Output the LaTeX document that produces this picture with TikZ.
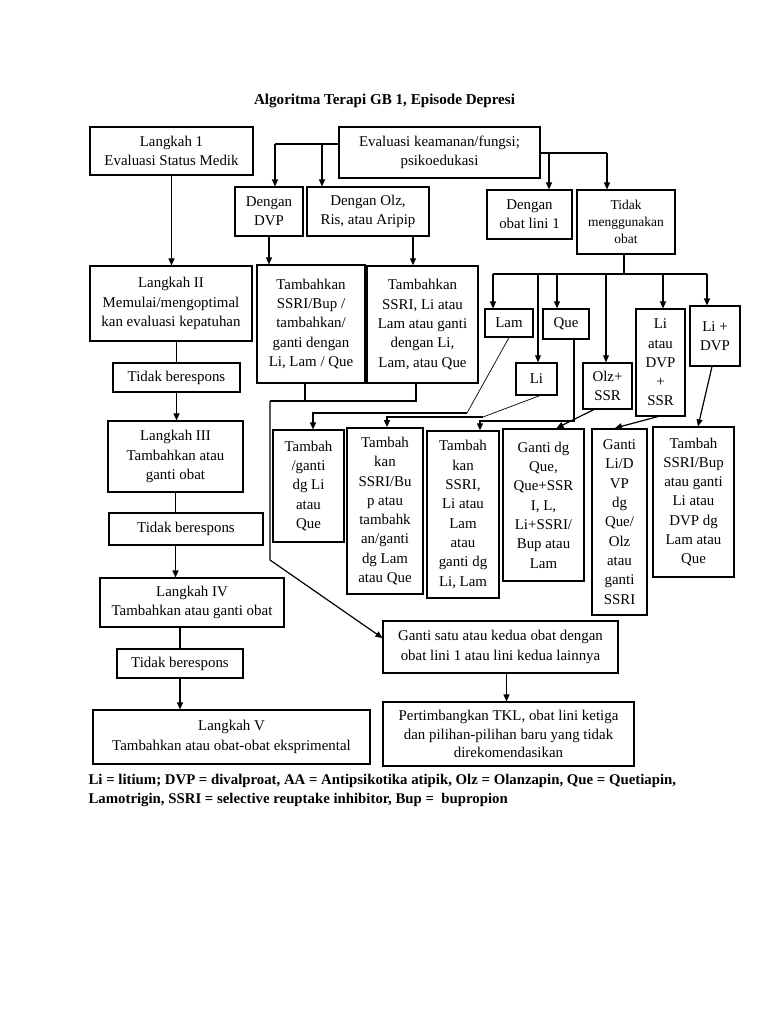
\documentclass[tikz,border=0pt]{standalone}
\usepackage{fontspec}
\setmainfont{Liberation Serif}
\usetikzlibrary{arrows.meta}

\begin{document}
\begin{tikzpicture}[x = 1pt, y = -1pt,
                > = {Triangle[length=7pt, width=6pt]}, % arrow head style
                line width = 1.2pt, % line style
                dims/.style 2 args = {minimum width=#1pt, minimum height=#2pt}
            ]

            \tikzstyle{box}=[draw = black, rectangle, align = center,
            inner sep = 0pt, line width = 1.1pt,
            font = \fontsize{14.9}{19.3}\selectfont]
            \tikzstyle{boxb}=[box, line width = 1.9pt]
            \tikzstyle{boxm}=[box, line width = 1.5pt]
            \tikzstyle{thinline}=[line width = 0.7pt]

            \path[use as bounding box, fill = white] (0,0) rectangle (768,1024);

            \node[font = \bfseries\fontsize{15.1}{18}\selectfont] (title) at (384.5,101)
            {Algoritma Terapi GB 1, Episode Depresi};

            % kolom langkah
            \node[boxb, dims={163}{48}] (lk1) at (171.5,151) {Langkah 1\\Evaluasi Status Medik};
            \node[box, dims={162}{75}] (lk2) at (171,303.5) {Langkah II\\Memulai/mengoptimal\\kan evaluasi kepatuhan};
            \node[box, dims={127}{29}] (tdk1) at (176.5,377.5) {Tidak berespons};
            \node[box, dims={135}{71}] (lk3) at (175.5,456.5) {Langkah III\\Tambahkan atau\\ganti obat};
            \node[box, dims={154}{32}] (tdk2) at (186,529) {Tidak berespons};
            \node[box, dims={184}{49}] (lk4) at (192,602.5) {Langkah IV\\Tambahkan atau ganti obat};
            \node[box, dims={126}{29}] (tdk3) at (180,663.5) {Tidak berespons};
            \node[box, dims={277}{54}] (lk5) at (231.5,737) {Langkah V\\Tambahkan atau obat-obat eksprimental};

            % evaluasi dan cabangnya
            \node[boxb, dims={201}{51}] (eval) at (439.5,152.5) {Evaluasi keamanan/fungsi;\\psikoedukasi};
            \node[box, dims={68}{49}] (dvp) at (269,211.5) {Dengan\\DVP};
            \node[box, dims={122}{49}] (olz) at (368,211.5) {Dengan Olz,\\Ris, atau Aripip};
            \node[box, dims={85}{49}] (lini) at (529.5,214.5) {Dengan\\obat lini 1};
            \node[box, dims={98}{64}, font = \fontsize{13.5}{17.3}\selectfont] (tidak) at (626,222)
            {Tidak\\menggunakan\\obat};
            \node[box, dims={108}{118}] (tb1) at (311,324) {Tambahkan\\SSRI/Bup /\\tambahkan/\\ganti dengan\\Li, Lam / Que};
            \node[boxm, dims={111}{117}] (tb2) at (422.5,324.5) {Tambahkan\\SSRI, Li atau\\Lam atau ganti\\dengan Li,\\Lam, atau Que};

            % obat
            \node[box, dims={48}{28}] (lam) at (509,323) {Lam};
            \node[boxm, dims={46}{30}] (que) at (566,324) {Que};
            \node[boxm, dims={41}{32}] (li) at (536.5,379) {Li};
            \node[boxm, dims={49}{46}] (olzssr) at (607.5,386) {Olz+\\SSR};
            \node[box, dims={49}{107}] (lidvpssr) at (660.5,362.5) {Li\\atau\\DVP\\+\\SSR};
            \node[box, dims={50}{60}] (lidvp) at (715,336) {Li +\\DVP};

            % baris bawah
            \node[box, dims={71}{112}] (b1) at (308.5,486) {Tambah\\/ganti\\dg Li\\atau\\Que};
            \node[boxb, dims={76}{166}] (b2) at (385,511) {Tambah\\kan\\SSRI/Bu\\p atau\\tambahk\\an/ganti\\dg Lam\\atau Que};
            \node[boxm, dims={72}{167}] (b3) at (463,514.5) {Tambah\\kan\\SSRI,\\Li atau\\Lam\\atau\\ganti dg\\Li, Lam};
            \node[boxb, dims={81}{152}] (b4) at (543.5,505) {Ganti dg\\Que,\\Que+SSR\\I, L,\\Li+SSRI/\\Bup atau\\Lam};
            \node[boxb, dims={55}{186}] (b5) at (619.5,522) {Ganti\\Li/D\\VP\\dg\\Que/\\Olz\\atau\\ganti\\SSRI};
            \node[box, dims={81}{150}] (b6) at (693.5,502) {Tambah\\SSRI/Bup\\atau ganti\\Li atau\\DVP dg\\Lam atau\\Que};

            \node[box, dims={235}{52}] (ganti) at (500.5,647) {Ganti satu atau kedua obat dengan\\obat lini 1 atau lini kedua lainnya};
            \node[box, dims={251}{64}, font = \fontsize{14.9}{18.7}\selectfont] (pert) at (508.5,734)
            {Pertimbangkan TKL, obat lini ketiga\\dan pilihan-pilihan baru yang tidak\\direkomendasikan};

            \node[font = \bfseries\fontsize{14.8}{19.5}\selectfont, anchor = base west, inner sep = 0pt] (ket1) at (88,784)
            {Li = litium; DVP = divalproat, AA = Antipsikotika atipik, Olz = Olanzapin, Que = Quetiapin,};
            \node[font = \bfseries\fontsize{14.8}{19.5}\selectfont, anchor = base west, inner sep = 0pt] (ket2) at (88,803.5)
            {Lamotrigin, SSRI = selective reuptake inhibitor, Bup = \ bupropion};

            % panah langkah
            \draw[->] (lk1.south) -- (lk1.south |- lk2.north);
            \draw (tdk1.north |- lk2.south) -- (tdk1.north);
            \draw[->] (tdk1.south) -- (tdk1.south |- lk3.north);
            \draw (lk3.south) -- (lk3.south |- tdk2.north);
            \draw[->] (lk3.south |- tdk2.south) -- (lk3.south |- lk4.north);
            \draw (tdk3.north |- lk4.south) -- (tdk3.north);
            \draw[->] (tdk3.south) -- (tdk3.south |- lk5.north);

            % panah evaluasi
            \coordinate (eL1) at (275,144); \coordinate (eL2) at (322,144);
            \coordinate (eR1) at (549,153); \coordinate (eR2) at (607,153);
            \draw (eval.west |- eL1) -- (eL1);
            \draw[->] (eL1) -- (eL1 |- dvp.north);
            \draw[->] (eL2) -- (eL2 |- olz.north);
            \draw (eval.east |- eR2) -- (eR2);
            \draw[->] (eR1) -- (eR1 |- lini.north);
            \draw[->] (eR2) -- (eR2 |- tidak.north);
            \draw[->] (dvp.south) -- (dvp.south |- tb1.north);
            \draw[->] ([xshift=45pt]olz.south) -- ([xshift=45pt]olz.south |- tb2.north);

            % panah obat
            \coordinate (bus) at (624,274);
            \coordinate (busL) at (493,274); \coordinate (busR) at (707,274);
            \draw (tidak.south -| bus) -- (bus);
            \draw (busL) -- (busR);
            \foreach \x/\t in {493/lam, 538/li, 557/que, 606/olzssr, 663/lidvpssr, 707/lidvp}
                \draw[->] (\x,274) -- (\x,274 |- \t.north);

            \coordinate (tbm) at (270,401); \coordinate (tbk) at (270,560);
            \draw ([xshift=-6pt]tb1.south) |- (tbm);
            \draw ([xshift=-6.5pt]tb2.south) |- (tbm);
            \draw[->] (tbm) -- (tbk) -- ([yshift=9pt]ganti.west);

            \coordinate (lamk) at (467,413);
            \draw[thinline] (lam.south) -- (lamk);
            \draw[->] (lamk) -| ([xshift=4.5pt]b1.north);
            \coordinate (lik) at (483,417);
            \draw[thinline] ([xshift=3pt]li.south) -- (lik);
            \draw[->] (lik) -| ([xshift=2pt]b2.north);
            \coordinate (quek) at (574,421);
            \draw[->] (que.south -| quek) -- (quek) -| ([xshift=17pt]b3.north);
            \draw[->] ([xshift=-14pt]olzssr.south) -- ([xshift=13pt]b4.north);
            \draw[->] ([xshift=-2.5pt]lidvpssr.south) -- ([xshift=-4.5pt]b5.north);
            \draw[->] ([xshift=-3pt]lidvp.south) -- ([xshift=4.5pt]b6.north);

            \draw[->] ([xshift=6pt]ganti.south) -- ([xshift=6pt]ganti.south |- pert.north);
\end{tikzpicture}
\end{document}
